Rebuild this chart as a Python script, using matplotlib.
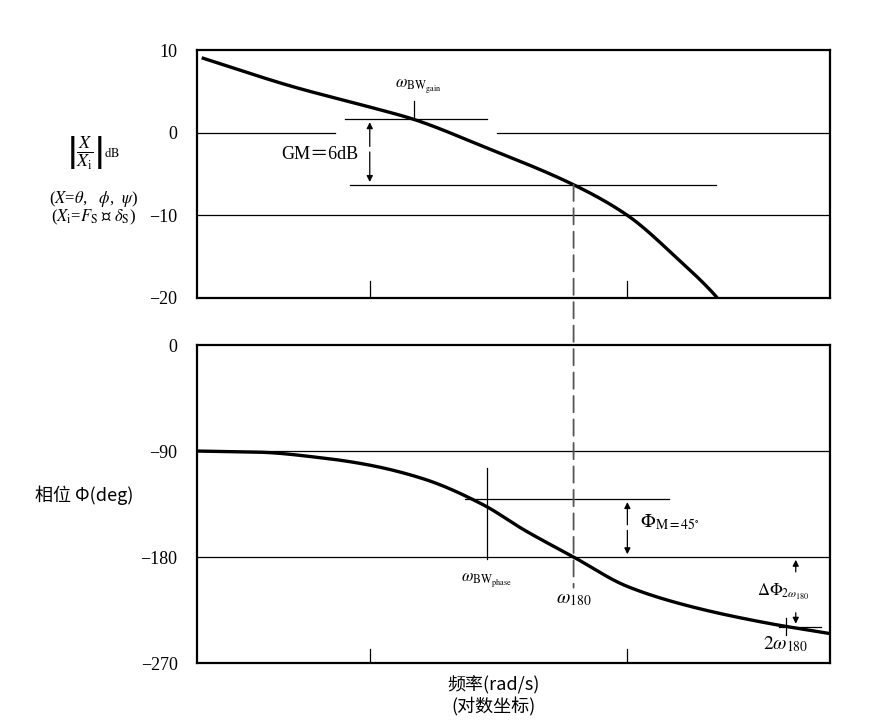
import matplotlib
matplotlib.use("Agg")
import matplotlib.pyplot as plt
from matplotlib.patches import ConnectionPatch
import numpy as np

plt.rcParams['font.family'] = ['Liberation Serif', 'Noto Sans CJK SC']
plt.rcParams['mathtext.fontset'] = 'stix'

# x in normalised log-frequency (0..1 across axes)
gain_x = [0.01, 0.15, 0.273, 0.343, 0.45, 0.595, 0.68, 0.76, 0.82, 0.822]
gain_db = [9.0, 5.6, 3.1, 1.6, -1.6, -6.3, -10.0, -15.3, -19.8, -20.0]
phase_x = [0.0, 0.1, 0.2, 0.273, 0.36, 0.45, 0.52, 0.595, 0.68, 0.78, 0.9, 1.0]
phase_deg = [-90, -91, -96, -102, -114, -135, -158, -180, -205, -222, -236, -245]
gain_yticks = [10, 0, -10, -20]
phase_yticks = [0, -90, -180, -270]

x_bwg, x_bwp, x_180, x_2w = 0.343, 0.458, 0.595, 0.93
tick_xs = [0.273, 0.68]

fig = plt.figure(figsize=(8.9, 7.25), dpi=100)
ax1 = fig.add_axes([0.2213, 0.589, 0.7112, 0.342])
ax2 = fig.add_axes([0.2213, 0.0855, 0.7112, 0.4386])

def smooth(xs, ys, n=300):
    xs = np.asarray(xs); ys = np.asarray(ys)
    t = np.linspace(xs[0], xs[-1], n)
    # monotone cubic (PCHIP-like) interpolation
    h = np.diff(xs); d = np.diff(ys) / h
    m = np.zeros_like(ys, dtype=float)
    m[0], m[-1] = d[0], d[-1]
    for i in range(1, len(xs) - 1):
        m[i] = 0 if d[i-1] * d[i] <= 0 else 2 / (1/d[i-1] + 1/d[i])
    idx = np.clip(np.searchsorted(xs, t) - 1, 0, len(h) - 1)
    s = (t - xs[idx]) / h[idx]
    h00 = 2*s**3 - 3*s**2 + 1; h10 = s**3 - 2*s**2 + s
    h01 = -2*s**3 + 3*s**2; h11 = s**3 - s**2
    y = h00*ys[idx] + h10*h[idx]*m[idx] + h01*ys[idx+1] + h11*h[idx]*m[idx+1]
    return t, y

for ax in (ax1, ax2):
    ax.set_xlim(0, 1)
    for s in ax.spines.values():
        s.set_linewidth(1.6)
    ax.set_xticks([])
    ax.tick_params(axis='y', length=0, labelsize=13, pad=14)

ax1.set_ylim(-20, 10)
ax1.set_yticks(gain_yticks)
ax1.set_yticklabels(['10', '0', '−10', '−20'])
ax2.set_ylim(-270, 0)
ax2.set_yticks(phase_yticks)
ax2.set_yticklabels(['0', '−90', '−180', '−270'])

lw = 0.9
# top reference lines
ax1.plot([0, 0.218], [0, 0], 'k', lw=lw)
ax1.plot([0.474, 1], [0, 0], 'k', lw=lw)
ax1.axhline(-10, color='k', lw=lw)
ax1.plot([0.234, 0.458], [1.6, 1.6], 'k', lw=lw)
ax1.plot([0.242, 0.82], [-6.3, -6.3], 'k', lw=lw)
ax1.plot([x_bwg, x_bwg], [1.6, 3.8], 'k', lw=lw)
for tx in tick_xs:
    ax1.plot([tx, tx], [-20, -18], 'k', lw=lw)
ax1.annotate('', xy=(0.273, 1.6), xytext=(0.273, -2.0),
             arrowprops=dict(arrowstyle='-|>', color='k', lw=lw, mutation_scale=9))
ax1.annotate('', xy=(0.273, -6.3), xytext=(0.273, -2.0),
             arrowprops=dict(arrowstyle='-|>', color='k', lw=lw, mutation_scale=9))
ax1.text(0.255, -2.6, 'GM＝6dB', ha='right', va='center', fontsize=13,
         family=['Liberation Serif', 'Noto Sans CJK SC'])
ax1.text(x_bwg - 0.03, 5.4, r'$\omega_{\mathrm{BW_{gain}}}$', fontsize=12)
t, y = smooth(gain_x, gain_db)
ax1.plot(t, y, 'k', lw=2.4, clip_on=True)

# bottom reference lines
ax2.axhline(-90, color='k', lw=lw)
ax2.axhline(-180, color='k', lw=lw)
ax2.plot([0.424, 0.745], [-131, -131], 'k', lw=lw)
ax2.plot([x_bwp, x_bwp], [-104, -182], 'k', lw=lw)
for tx in tick_xs:
    ax2.plot([tx, tx], [-270, -258], 'k', lw=lw)
ax2.annotate('', xy=(0.68, -131), xytext=(0.68, -155),
             arrowprops=dict(arrowstyle='-|>', color='k', lw=lw, mutation_scale=9))
ax2.annotate('', xy=(0.68, -180), xytext=(0.68, -155),
             arrowprops=dict(arrowstyle='-|>', color='k', lw=lw, mutation_scale=9))
ax2.annotate('', xy=(0.946, -180), xytext=(0.946, -195),
             arrowprops=dict(arrowstyle='-|>', color='k', lw=lw, mutation_scale=9))
ax2.annotate('', xy=(0.946, -239), xytext=(0.946, -225),
             arrowprops=dict(arrowstyle='-|>', color='k', lw=lw, mutation_scale=9))
ax2.plot([0.92, 0.986], [-239, -239], 'k', lw=lw)
ax2.plot([x_2w, x_2w], [-232, -246], 'k', lw=lw)
ax2.text(0.70, -150, r'$\Phi_{\mathrm{M=45^{\circ}}}$', fontsize=14, va='center')
ax2.text(0.885, -210, r'$\Delta\Phi_{2\omega_{180}}$', fontsize=12, va='center')
ax2.text(x_bwp, -193, r'$\omega_{\mathrm{BW_{phase}}}$', fontsize=12, ha='center', va='top')
ax2.text(x_180, -209, r'$\omega_{180}$', fontsize=14, ha='center', va='top')
ax2.text(x_2w, -246, r'$2\omega_{180}$', fontsize=14, ha='center', va='top')
t, y = smooth(phase_x, phase_deg)
ax2.plot(t, y, 'k', lw=2.4)

con = ConnectionPatch(xyA=(x_180, -6.3), coordsA=ax1.transData,
                      xyB=(x_180, -206), coordsB=ax2.transData,
                      color='#555555', lw=1.3, linestyle=(0, (9, 4)))
fig.add_artist(con)

fam = ['Liberation Serif', 'Noto Sans CJK SC']
fig.text(0.105, 0.79, r'$\left|\dfrac{X}{X_{\mathrm{i}}}\right|_{\mathrm{dB}}$',
         ha='center', va='center', fontsize=13)
fig.text(0.105, 0.725, r'($X$=$\theta$,   $\phi$,  $\psi$)', ha='center', va='center', fontsize=12)
fig.text(0.105, 0.70, r'($X_{\mathrm{i}}$=$F_{\mathrm{S}}$ 或 $\delta_{\mathrm{S}}$)',
         ha='center', va='center', fontsize=12, family=fam)
fig.text(0.095, 0.317, '相位 Φ(deg)', ha='center', va='center', fontsize=13, family=['Noto Sans CJK SC', 'Liberation Serif'])
fig.text(0.555, 0.055, '频率(rad/s)', ha='center', va='center', fontsize=13, family=['Noto Sans CJK SC'])
fig.text(0.555, 0.025, '(对数坐标)', ha='center', va='center', fontsize=13, family=['Noto Sans CJK SC'])

fig.savefig('out.png', dpi=100)
